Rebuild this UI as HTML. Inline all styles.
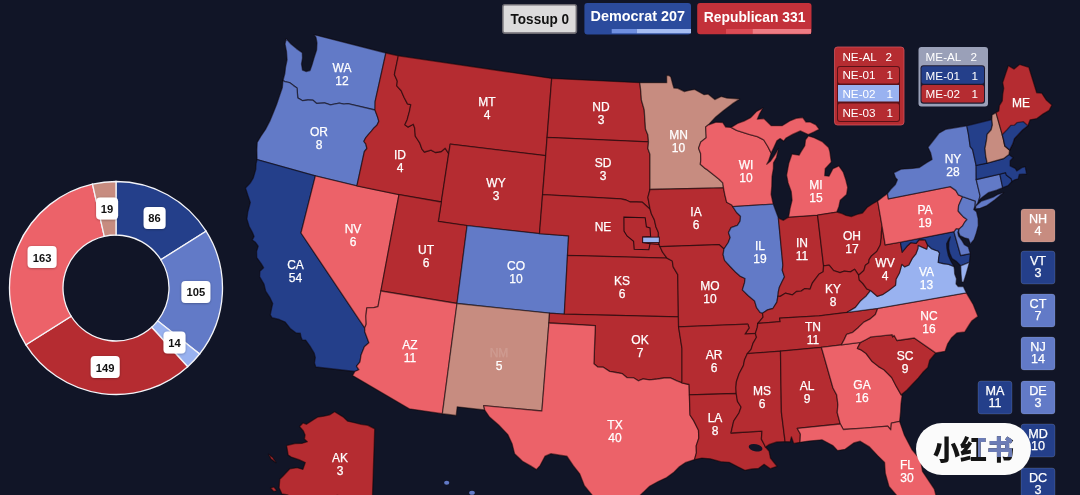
<!DOCTYPE html>
<html><head><meta charset="utf-8"><title>Electoral Map</title>
<style>
html,body{margin:0;padding:0;background:#111527;width:1080px;height:495px;overflow:hidden;}
svg{display:block;}
text{font-family:"Liberation Sans",Arial,sans-serif;}
.lbl text{fill:#fff;font-size:12px;text-anchor:middle;stroke:#fff;stroke-width:0.25px;}
.lbl text.bx{font-size:12.6px;}
.dl{fill:#111;font-size:11.2px;font-weight:bold;text-anchor:middle;}
.dt{fill:#fff;font-size:11.7px;}
.bt{font-size:14.2px;font-weight:bold;text-anchor:middle;}
.wm{font-family:"Noto Sans CJK SC","WenQuanYi Zen Hei",sans-serif;font-size:27px;font-weight:900;text-anchor:middle;fill:#141414;}
</style></head>
<body>
<svg width="1080" height="495" viewBox="0 0 1080 495">
<defs><filter id="sh" x="-30%" y="-30%" width="160%" height="160%"><feDropShadow dx="0" dy="0.5" stdDeviation="0.8" flood-color="#000" flood-opacity="0.35"/></filter></defs>
<g class="map" stroke="#0b0306" stroke-opacity="0.5" stroke-width="1.3" stroke-linejoin="round">
<path d="M283.0 80.5L284.9 73.3L285.5 67.4L287.1 59.8L286.5 51.6L285.0 44.0L286.2 38.8L291.0 44.1L296.5 48.6L302.3 52.7L302.5 58.0L301.5 63.9L302.5 70.1L306.0 71.5L310.0 70.6L312.0 64.9L314.0 58.1L316.6 50.0L317.0 42.9L316.0 37.4L314.2 34.7L385.9 53.0L375.1 101.7L375.0 110.0L347.8 103.6L343.9 104.1L339.3 103.1L330.4 104.8L324.6 102.9L316.7 103.4L313.0 100.2L307.8 100.0L302.6 100.7L297.8 97.9L297.4 93.2L297.0 88.0L293.5 85.6L289.5 82.6L284.8 81.6L283.0 80.5Z" fill="#627ac7"/>
<path d="M283.0 80.5L284.8 81.6L289.5 82.6L293.5 85.6L297.0 88.0L297.4 93.2L297.8 97.9L302.6 100.7L307.8 100.0L313.0 100.2L316.7 103.4L324.6 102.9L330.4 104.8L339.3 103.1L343.9 104.1L347.8 103.6L375.0 110.0L376.4 113.7L377.8 117.6L378.8 121.4L376.9 125.3L374.2 127.7L371.4 131.1L368.5 134.4L365.7 137.8L363.9 141.4L365.8 143.8L366.9 148.5L364.4 151.5L356.9 185.9L315.4 175.9L257.1 159.6L256.9 150.3L257.2 142.4L260.9 136.2L265.5 129.4L270.1 120.6L273.8 111.6L276.7 104.3L279.8 95.1L282.3 87.7L282.7 83.8L283.0 80.5Z" fill="#627ac7"/>
<path d="M257.1 159.6L315.4 175.9L301.0 233.0L364.7 327.9L364.9 331.9L368.9 342.7L364.4 346.8L361.1 355.1L360.0 361.9L356.5 366.2L358.9 369.7L354.9 371.5L315.8 367.0L314.5 362.9L315.3 357.4L314.2 353.2L310.0 346.2L305.6 340.1L302.3 340.0L301.0 337.0L300.3 333.2L295.8 332.8L290.2 328.4L285.2 322.1L279.3 319.5L272.0 317.7L270.3 314.8L271.6 308.4L272.7 303.6L270.1 297.9L265.7 291.2L264.0 284.1L259.6 276.7L259.9 271.3L263.6 267.7L261.2 263.7L256.8 257.6L256.6 251.4L258.2 246.2L255.5 242.3L252.3 240.0L254.1 236.4L252.7 232.9L249.1 226.3L246.9 218.9L247.8 212.0L250.3 202.5L248.0 195.7L245.5 188.0L250.2 183.1L253.3 177.9L255.8 169.4L256.1 163.4L257.1 159.6Z" fill="#243f8a"/>
<path d="M315.4 175.9L356.9 185.9L399.0 194.6L380.9 291.0L378.0 306.7L373.8 307.7L366.8 307.9L365.9 316.1L366.2 324.2L364.7 327.9L301.0 233.0L315.4 175.9Z" fill="#ec6269"/>
<path d="M385.9 53.0L375.1 101.7L375.0 110.0L376.4 113.7L377.8 117.6L378.8 121.4L376.9 125.3L374.2 127.7L371.4 131.1L368.5 134.4L365.7 137.8L363.9 141.4L365.8 143.8L366.9 148.5L364.4 151.5L356.9 185.9L399.0 194.6L441.3 202.0L448.7 153.7L445.1 148.2L441.3 151.5L435.5 152.5L431.0 150.2L424.4 152.0L422.0 149.2L419.7 142.8L417.5 139.5L415.3 136.1L414.7 128.0L413.3 124.2L407.9 127.1L404.9 124.8L407.2 119.7L409.5 111.2L410.8 104.6L407.5 103.9L404.0 97.3L401.2 90.8L396.8 85.9L397.3 81.1L394.4 74.6L398.3 55.8L385.9 53.0Z" fill="#b52c31"/>
<path d="M448.7 153.7L445.1 148.2L441.3 151.5L435.5 152.5L431.0 150.2L424.4 152.0L422.0 149.2L419.7 142.8L417.5 139.5L415.3 136.1L414.7 128.0L413.3 124.2L407.9 127.1L404.9 124.8L407.2 119.7L409.5 111.2L410.8 104.6L407.5 103.9L404.0 97.3L401.2 90.8L396.8 85.9L397.3 81.1L394.4 74.6L398.3 55.8L551.7 78.4L547.1 137.4L545.7 155.7L450.2 144.1L448.7 153.7Z" fill="#b52c31"/>
<path d="M448.7 153.7L450.2 144.1L545.7 155.7L542.6 194.6L539.5 233.7L467.1 225.6L438.3 221.4L441.3 202.0L448.7 153.7Z" fill="#b52c31"/>
<path d="M399.0 194.6L441.3 202.0L438.3 221.4L467.1 225.6L457.0 303.5L380.9 291.0L399.0 194.6Z" fill="#b52c31"/>
<path d="M467.1 225.6L539.5 233.7L568.6 235.8L567.5 255.4L564.3 314.2L549.5 313.2L457.0 303.5L467.1 225.6Z" fill="#627ac7"/>
<path d="M380.9 291.0L457.0 303.5L442.4 413.7L409.3 408.8L352.6 375.6L354.9 371.5L358.9 369.7L356.5 366.2L360.0 361.9L361.1 355.1L364.4 346.8L368.9 342.7L364.9 331.9L364.7 327.9L366.2 324.2L365.9 316.1L366.8 307.9L373.8 307.7L378.0 306.7L380.9 291.0Z" fill="#ec6269"/>
<path d="M457.0 303.5L549.5 313.2L548.9 323.0L541.9 411.0L483.7 405.6L484.7 410.0L457.2 406.8L456.2 415.5L442.4 413.7L457.0 303.5Z" fill="#c78c80"/>
<path d="M547.1 137.4L551.7 78.4L639.8 82.7L640.8 91.3L641.4 100.0L644.2 109.7L644.9 119.4L645.5 129.1L647.9 134.9L648.5 141.9L547.1 137.4Z" fill="#b52c31"/>
<path d="M547.1 137.4L648.5 141.9L647.9 148.5L650.0 154.4L650.0 189.5L647.9 197.3L650.1 209.3L646.5 206.1L642.3 202.2L636.6 201.9L630.2 202.0L626.0 200.0L621.0 198.9L542.6 194.6L545.7 155.7L547.1 137.4Z" fill="#b52c31"/>
<path d="M542.6 194.6L621.0 198.9L626.0 200.0L630.2 202.0L636.6 201.9L642.3 202.2L646.5 206.1L650.1 209.3L651.5 214.0L654.4 219.9L655.9 226.7L658.4 232.6L658.4 238.5L659.0 244.4L660.1 246.7L662.6 252.2L667.0 258.1L567.5 255.4L568.6 235.8L539.5 233.7L542.6 194.6Z" fill="#b52c31"/>
<path d="M567.5 255.4L667.0 258.1L672.3 261.0L673.2 266.9L677.8 274.7L678.4 316.9L564.3 314.2L567.5 255.4Z" fill="#b52c31"/>
<path d="M564.3 314.2L678.4 316.9L678.6 326.8L682.0 348.5L682.0 382.9L676.8 380.8L670.4 377.9L664.0 378.0L657.6 379.0L649.5 379.9L643.1 378.9L638.3 380.8L633.5 377.8L627.1 377.7L622.3 373.7L616.0 372.5L609.6 371.4L603.3 367.2L597.8 367.0L593.9 363.7L595.3 325.7L548.9 323.0L549.5 313.2L564.3 314.2Z" fill="#b52c31"/>
<path d="M548.9 323.0L595.3 325.7L593.9 363.7L597.8 367.0L603.3 367.2L609.6 371.4L616.0 372.5L622.3 373.7L627.1 377.7L633.5 377.8L638.3 380.8L643.1 378.9L649.5 379.9L657.6 379.0L664.0 378.0L670.4 377.9L676.8 380.8L682.0 382.9L689.1 384.5L689.4 394.9L690.0 415.0L693.7 420.6L698.5 430.3L698.8 438.1L696.2 445.9L696.4 452.8L694.5 459.6L685.2 462.7L679.3 466.7L673.5 472.6L666.7 477.6L658.2 481.5L649.6 486.3L643.6 492.1L638.4 496.9L634.9 504.6L634.3 514.3L636.5 524.0L638.2 532.7L632.0 533.5L624.1 530.5L616.2 527.4L605.8 523.3L600.8 513.5L597.6 501.7L592.6 495.7L584.4 485.7L579.7 473.8L573.3 465.7L566.9 456.2L560.2 455.2L551.0 453.7L545.0 456.2L540.1 465.6L536.4 469.6L530.7 465.9L522.5 461.3L514.6 453.8L512.1 443.8L507.8 434.6L498.7 424.9L489.5 417.0L484.7 410.0L483.7 405.6L541.9 411.0L548.9 323.0Z" fill="#ec6269"/>
<path d="M648.5 141.9L647.9 134.9L645.5 129.1L644.9 119.4L644.2 109.7L641.4 100.0L640.8 91.3L639.8 82.7L666.7 82.7L666.6 75.4L669.1 75.6L670.8 76.9L672.8 84.5L673.9 88.0L677.8 88.3L684.4 91.6L688.9 90.4L694.7 89.4L700.1 92.5L704.1 94.7L708.0 94.1L714.8 99.6L721.2 96.4L726.5 98.0L734.4 98.5L739.7 99.1L732.2 103.9L723.3 110.8L715.7 117.0L708.1 125.1L705.7 126.9L706.2 137.8L700.8 141.9L698.6 148.2L700.6 153.6L700.8 160.4L700.3 164.3L704.6 168.1L707.5 169.9L713.2 174.6L719.1 179.2L722.8 182.9L723.5 187.8L650.0 189.5L650.0 154.4L647.9 148.5L648.5 141.9Z" fill="#c78c80"/>
<path d="M650.0 189.5L723.5 187.8L724.8 194.6L726.7 202.3L731.8 205.0L732.8 206.7L736.6 212.5L740.5 216.2L740.1 221.2L737.4 225.3L731.1 227.6L728.5 232.6L730.2 237.5L728.3 242.5L724.0 249.0L719.2 244.7L660.1 246.7L659.0 244.4L658.4 238.5L658.4 232.6L655.9 226.7L654.4 219.9L651.5 214.0L650.1 209.3L647.9 197.3L650.0 189.5Z" fill="#b52c31"/>
<path d="M660.1 246.7L719.2 244.7L724.0 249.0L723.1 254.5L724.6 260.4L729.7 266.0L736.0 272.6L740.0 276.1L745.1 278.5L744.5 282.9L742.4 289.9L748.1 295.5L754.6 300.9L756.6 307.7L760.1 312.4L762.5 313.2L763.1 317.1L760.0 320.9L757.8 323.4L757.3 327.4L755.4 333.4L745.0 334.1L749.1 327.9L747.8 324.1L678.6 326.8L678.4 316.9L677.8 274.7L673.2 266.9L672.3 261.0L667.0 258.1L662.6 252.2L660.1 246.7Z" fill="#b52c31"/>
<path d="M678.6 326.8L747.8 324.1L749.1 327.9L745.0 334.1L755.4 333.4L756.5 337.3L753.0 343.4L751.1 349.4L747.4 353.6L744.6 359.7L743.4 365.6L739.1 373.7L736.4 381.7L735.9 387.7L736.2 393.5L689.4 394.9L689.1 384.5L682.0 382.9L682.0 348.5L678.6 326.8Z" fill="#b52c31"/>
<path d="M689.4 394.9L736.2 393.5L737.5 401.3L741.1 407.0L739.0 413.0L733.7 421.1L731.0 433.0L762.0 431.2L761.4 439.1L764.4 444.7L765.4 447.0L769.1 451.2L770.4 458.0L777.0 466.3L770.4 468.7L764.1 464.3L758.4 468.5L751.7 469.0L744.9 470.3L737.9 466.8L729.2 462.3L720.7 461.7L710.4 458.8L701.9 458.1L694.5 459.6L696.4 452.8L696.2 445.9L698.8 438.1L698.5 430.3L693.7 420.6L690.0 415.0L689.4 394.9Z" fill="#b52c31"/>
<path d="M708.1 125.1L716.0 122.2L722.7 122.5L725.7 127.1L731.1 127.4L736.6 130.4L749.1 134.4L757.4 136.7L763.8 140.0L767.8 146.5L771.2 153.1L768.5 161.2L766.7 164.3L770.6 161.0L774.2 155.8L778.4 148.9L776.5 157.5L773.5 162.7L773.4 168.6L772.0 176.5L771.8 186.4L771.1 194.3L773.2 204.1L732.8 206.7L731.8 205.0L726.7 202.3L724.8 194.6L723.5 187.8L722.8 182.9L719.1 179.2L713.2 174.6L707.5 169.9L704.6 168.1L700.3 164.3L700.8 160.4L700.6 153.6L698.6 148.2L700.8 141.9L706.2 137.8L705.7 126.9L708.1 125.1Z" fill="#ec6269"/>
<path d="M732.8 206.7L773.2 204.1L778.4 218.1L782.9 265.2L782.3 270.2L784.5 276.9L781.9 282.0L779.4 287.2L778.3 292.2L777.9 296.2L776.9 302.2L772.9 308.5L767.6 309.9L762.5 313.2L760.1 312.4L756.6 307.7L754.6 300.9L748.1 295.5L742.4 289.9L744.5 282.9L745.1 278.5L740.0 276.1L736.0 272.6L729.7 266.0L724.6 260.4L723.1 254.5L724.0 249.0L728.3 242.5L730.2 237.5L728.5 232.6L731.1 227.6L737.4 225.3L740.1 221.2L740.5 216.2L736.6 212.5L732.8 206.7Z" fill="#627ac7"/>
<path d="M778.4 218.1L783.4 220.3L788.6 217.1L817.6 215.1L823.6 265.8L823.2 271.8L818.9 274.3L815.7 278.6L812.4 283.0L810.0 289.2L804.6 288.7L801.1 291.1L796.5 291.5L792.3 294.9L785.3 293.2L780.2 296.4L777.9 296.2L778.3 292.2L779.4 287.2L781.9 282.0L784.5 276.9L782.3 270.2L782.9 265.2L778.4 218.1Z" fill="#b52c31"/>
<path d="M788.6 217.1L817.6 215.1L836.8 212.1L838.9 206.5L840.2 200.3L842.8 198.0L846.6 194.5L847.7 187.4L845.8 179.8L843.3 172.2L838.9 165.9L832.9 168.7L829.0 176.2L824.7 175.7L825.2 168.8L831.3 162.1L829.8 151.4L828.6 147.6L822.2 141.6L814.1 137.7L808.4 135.9L805.5 139.8L804.8 145.7L800.8 152.1L799.1 155.2L792.0 154.0L788.8 163.2L786.6 175.2L788.1 182.9L791.2 191.4L792.1 200.2L790.1 208.3L788.6 217.1Z" fill="#ec6269"/>
<path d="M731.1 127.4L736.6 130.4L749.1 134.4L757.4 136.7L763.8 140.0L767.8 146.5L771.2 153.1L774.1 147.0L776.9 140.8L780.1 138.6L783.7 141.1L786.1 138.0L792.5 134.4L800.3 130.9L808.3 134.5L814.1 131.9L819.2 129.2L815.9 124.8L810.1 122.0L806.0 122.1L802.8 117.6L796.1 118.3L789.7 121.0L782.1 125.7L771.3 125.7L763.9 118.6L757.3 119.2L759.5 114.1L762.9 108.0L756.6 111.4L750.5 117.7L744.0 121.1L737.5 123.5L731.1 127.4Z" fill="#ec6269"/>
<path d="M817.6 215.1L836.8 212.1L842.1 213.6L846.0 215.4L851.3 216.6L858.3 214.0L862.5 213.0L867.4 207.2L872.7 203.8L877.7 201.0L882.2 226.9L881.5 231.8L881.3 237.8L880.3 245.0L876.8 251.5L871.5 255.9L869.1 259.7L868.8 262.7L865.4 265.2L863.9 270.4L858.6 275.2L854.7 269.3L850.5 271.9L844.3 271.2L840.0 272.7L833.6 270.6L829.1 265.2L823.6 265.8L817.6 215.1Z" fill="#b52c31"/>
<path d="M823.6 265.8L829.1 265.2L833.6 270.6L840.0 272.7L844.3 271.2L850.5 271.9L854.7 269.3L858.6 275.2L859.3 280.0L862.9 283.5L866.8 288.9L870.6 290.5L866.3 295.9L860.8 300.7L855.5 307.4L847.2 312.4L819.3 315.8L779.6 318.2L780.2 321.7L757.8 323.4L760.0 320.9L763.1 317.1L762.5 313.2L767.6 309.9L772.9 308.5L776.9 302.2L777.9 296.2L780.2 296.4L785.3 293.2L792.3 294.9L796.5 291.5L801.1 291.1L804.6 288.7L810.0 289.2L812.4 283.0L815.7 278.6L818.9 274.3L823.2 271.8L823.6 265.8Z" fill="#b52c31"/>
<path d="M757.8 323.4L780.2 321.7L779.6 318.2L819.3 315.8L847.2 312.4L877.8 308.3L875.4 314.4L869.8 319.2L863.9 322.1L858.4 327.4L852.8 332.3L846.7 334.3L844.2 339.6L841.4 344.9L821.4 347.3L780.5 351.2L747.4 353.6L751.1 349.4L753.0 343.4L756.5 337.3L755.4 333.4L757.3 327.4L757.8 323.4Z" fill="#b52c31"/>
<path d="M747.4 353.6L780.5 351.2L781.4 412.1L785.1 441.6L776.8 441.9L769.4 444.4L765.4 447.0L764.4 444.7L761.4 439.1L762.0 431.2L731.0 433.0L733.7 421.1L739.0 413.0L741.1 407.0L737.5 401.3L736.2 393.5L735.9 387.7L736.4 381.7L739.1 373.7L743.4 365.6L744.6 359.7L747.4 353.6Z" fill="#b52c31"/>
<path d="M780.5 351.2L821.4 347.3L833.0 388.0L836.7 394.9L837.9 404.6L837.2 412.5L840.3 424.0L797.3 428.4L800.4 434.0L800.0 442.3L793.7 443.4L791.4 436.8L790.2 441.8L785.1 441.6L781.4 412.1L780.5 351.2Z" fill="#b52c31"/>
<path d="M821.4 347.3L841.4 344.9L860.5 342.4L857.4 348.4L861.6 350.2L866.1 353.5L872.2 361.6L878.6 366.6L884.0 369.7L891.7 377.5L896.5 386.7L901.2 394.8L902.1 395.7L901.0 403.8L900.6 411.8L899.6 421.4L891.4 423.1L890.8 429.9L887.7 426.2L864.3 428.1L843.3 429.5L840.3 424.0L837.2 412.5L837.9 404.6L836.7 394.9L833.0 388.0L821.4 347.3Z" fill="#ec6269"/>
<path d="M840.3 424.0L843.3 429.5L864.3 428.1L887.7 426.2L890.8 429.9L891.4 423.1L899.6 421.4L904.3 434.9L911.9 449.5L920.5 459.9L922.5 471.4L934.3 489.1L936.8 498.5L938.3 511.9L935.0 524.2L926.4 526.6L919.7 518.9L907.7 511.0L900.8 500.3L889.0 486.4L885.3 473.2L884.6 462.5L877.6 455.6L869.5 446.9L860.2 441.2L853.7 443.0L845.1 449.3L837.6 450.6L832.8 445.5L822.0 439.8L808.6 441.1L800.0 442.3L800.4 434.0L797.3 428.4L840.3 424.0Z" fill="#ec6269"/>
<path d="M860.5 342.4L865.7 339.7L870.9 336.9L878.7 336.2L892.2 334.7L892.6 336.8L894.1 335.4L897.0 340.5L914.3 338.0L935.7 352.9L929.7 360.2L927.8 367.5L922.9 372.3L918.2 378.1L912.6 384.0L907.0 389.9L901.2 394.8L896.5 386.7L891.7 377.5L884.0 369.7L878.6 366.6L872.2 361.6L866.1 353.5L861.6 350.2L857.4 348.4L860.5 342.4Z" fill="#b52c31"/>
<path d="M841.4 344.9L844.2 339.6L846.7 334.3L852.8 332.3L858.4 327.4L863.9 322.1L869.8 319.2L875.4 314.4L877.8 308.3L966.3 292.8L973.2 304.4L978.0 316.4L972.0 320.7L969.6 324.2L964.8 331.9L956.9 332.9L951.4 338.0L947.7 343.8L945.1 351.3L935.7 352.9L914.3 338.0L897.0 340.5L894.1 335.4L892.6 336.8L892.2 334.7L878.7 336.2L870.9 336.9L865.7 339.7L860.5 342.4L841.4 344.9Z" fill="#ec6269"/>
<path d="M877.8 308.3L966.3 292.8L963.3 286.4L958.2 286.5L956.0 283.9L956.5 278.8L954.7 274.1L954.4 269.2L953.8 266.3L948.7 264.3L943.1 263.5L938.3 262.4L938.8 257.3L939.6 253.1L937.9 250.9L935.8 250.3L931.6 248.7L927.6 245.1L926.7 249.1L918.1 245.3L917.9 248.4L915.9 253.8L912.2 258.4L908.8 265.0L904.6 266.8L901.8 264.3L899.5 272.7L896.0 279.3L895.5 285.3L888.7 290.5L883.1 294.3L877.2 296.3L870.6 290.5L866.3 295.9L860.8 300.7L855.5 307.4L847.2 312.4L877.8 308.3Z" fill="#99b2f0"/>
<path d="M882.2 226.9L881.5 231.8L881.3 237.8L880.3 245.0L876.8 251.5L871.5 255.9L869.1 259.7L868.8 262.7L865.4 265.2L863.9 270.4L858.6 275.2L859.3 280.0L862.9 283.5L866.8 288.9L870.6 290.5L877.2 296.3L883.1 294.3L888.7 290.5L895.5 285.3L896.0 279.3L899.5 272.7L901.8 264.3L904.6 266.8L908.8 265.0L912.2 258.4L915.9 253.8L917.9 248.4L918.1 245.3L926.7 249.1L927.6 245.1L925.3 239.9L919.2 239.5L916.1 243.3L910.7 242.7L907.5 245.7L902.2 252.2L900.4 242.2L885.2 244.8L882.2 226.9Z" fill="#b52c31"/>
<path d="M900.4 242.2L954.0 231.6L954.3 233.0L960.7 255.5L970.3 253.6L969.4 262.3L960.7 265.8L956.7 261.6L952.1 258.6L949.7 253.1L948.7 248.3L948.9 242.2L950.4 236.8L948.7 239.2L946.6 243.7L946.9 248.6L948.3 255.4L950.8 260.9L953.8 266.3L948.7 264.3L943.1 263.5L938.3 262.4L938.8 257.3L939.6 253.1L937.9 250.9L935.8 250.3L931.6 248.7L927.6 245.1L925.3 239.9L919.2 239.5L916.1 243.3L910.7 242.7L907.5 245.7L902.2 252.2L900.4 242.2Z" fill="#243f8a"/>
<path d="M954.0 231.6L954.3 233.0L960.7 255.5L970.3 253.6L968.3 247.0L964.5 244.8L961.9 240.4L958.6 236.0L957.8 232.2L959.2 228.9L956.2 228.7L954.0 231.6Z" fill="#627ac7"/>
<path d="M882.2 226.9L885.2 244.8L900.4 242.2L954.0 231.6L956.2 228.7L959.2 228.9L962.5 226.1L964.4 222.7L967.0 219.5L963.4 216.9L960.3 213.5L958.2 211.0L958.6 205.8L960.0 202.5L962.6 196.7L958.3 194.8L955.8 190.4L950.3 186.6L888.4 198.8L887.5 193.6L883.1 196.7L877.7 201.0L882.2 226.9Z" fill="#ec6269"/>
<path d="M959.2 228.9L962.5 226.1L964.4 222.7L967.0 219.5L963.4 216.9L960.3 213.5L958.2 211.0L958.6 205.8L960.0 202.5L962.6 196.7L975.4 201.1L975.1 206.1L973.7 209.4L976.5 211.8L978.1 218.5L978.3 225.5L976.3 233.1L974.0 239.6L970.4 243.9L968.5 238.9L964.4 237.8L960.1 235.7L958.5 232.0L959.2 228.9Z" fill="#627ac7"/>
<path d="M887.5 193.6L888.4 198.8L950.3 186.6L955.8 190.4L958.3 194.8L962.6 196.7L975.4 201.1L975.0 207.1L975.8 205.9L977.5 203.5L978.9 200.1L980.1 195.8L976.2 179.5L976.1 165.4L972.6 149.5L970.2 146.6L968.5 134.5L966.8 125.8L945.9 129.3L938.9 133.3L933.5 140.3L928.0 147.3L930.6 152.7L932.1 159.4L927.0 162.5L919.4 167.5L912.4 168.4L901.1 169.2L893.8 172.8L895.5 177.6L897.4 179.7L895.4 184.6L890.5 189.5L887.5 193.6Z" fill="#627ac7"/>
<path d="M978.9 200.1L980.1 195.8L976.2 179.5L999.8 174.2L1002.7 187.7L996.6 190.2L988.3 192.7L983.3 196.6L978.9 200.1Z" fill="#627ac7"/>
<path d="M1002.7 187.7L999.8 174.2L1005.6 172.6L1006.3 174.9L1011.2 178.7L1011.9 181.5L1008.1 185.6L1002.7 187.7Z" fill="#243f8a"/>
<path d="M976.2 179.5L999.8 174.2L1005.6 172.6L1006.3 174.9L1011.2 178.7L1011.9 181.5L1014.8 179.8L1018.2 178.8L1019.3 174.4L1026.6 174.0L1025.2 166.7L1021.8 167.6L1016.8 171.0L1015.3 168.4L1010.1 165.8L1010.2 160.7L1013.1 157.8L1008.9 154.5L1003.7 158.5L987.2 163.1L976.1 165.4L976.2 179.5Z" fill="#243f8a"/>
<path d="M976.1 165.4L987.2 163.1L985.7 156.0L985.0 148.3L986.4 140.8L987.2 134.3L991.2 129.7L992.4 125.0L991.9 119.6L966.8 125.8L968.5 134.5L970.2 146.6L972.6 149.5L976.1 165.4Z" fill="#243f8a"/>
<path d="M987.2 163.1L1003.7 158.5L1008.9 154.5L1009.6 150.1L1004.9 146.0L1003.2 138.1L996.0 112.6L992.1 114.9L991.9 119.6L992.4 125.0L991.2 129.7L987.2 134.3L986.4 140.8L985.0 148.3L985.7 156.0L987.2 163.1Z" fill="#c78c80"/>
<path d="M1009.6 150.1L1004.9 146.0L1003.2 138.1L996.0 112.6L998.8 110.9L999.4 105.6L1002.3 100.8L1002.7 94.6L1003.7 88.3L1002.7 82.5L1005.7 73.6L1008.4 65.8L1014.1 69.1L1019.6 64.5L1028.8 67.3L1036.7 92.8L1041.8 93.2L1046.2 100.0L1051.9 105.0L1049.1 110.4L1042.9 114.1L1036.9 118.6L1030.1 119.8L1027.9 125.8L1022.5 130.0L1017.9 134.9L1014.4 138.6L1012.7 143.9L1009.6 150.1Z" fill="#b52c31"/>
<path d="M969.4 262.3L960.7 265.8L961.1 274.8L961.8 281.7L963.5 282.3L966.3 273.6Z" fill="#99b2f0"/>
<path d="M975.5 209.0L980.2 208.3L987.0 205.6L994.6 199.9L1003.6 192.5L997.7 194.4L993.8 196.8L988.3 198.8L981.4 201.1L975.8 205.9Z" fill="#627ac7"/>
<path d="M374.7 428.8L367.9 425.3L361.0 424.3L354.3 422.7L347.7 421.2L343.1 416.9L334.6 411.7L329.9 414.8L323.9 416.2L317.9 417.0L314.2 419.2L306.5 424.3L303.0 423.0L299.6 426.5L303.4 431.0L305.1 435.0L304.4 439.1L307.4 441.7L301.8 443.4L294.9 443.5L286.6 445.6L288.2 455.1L291.3 457.1L299.0 459.7L305.3 462.5L302.9 469.4L297.2 467.7L289.9 468.8L283.1 476.0L279.8 479.2L279.1 487.7L282.0 494.0L287.9 495.0L286.2 505.7L287.9 507.0L294.3 507.1L299.5 508.4L302.9 514.3L300.9 519.7L296.0 522.8L287.7 527.4L277.4 530.5L269.2 533.0L262.1 535.0L276.0 534.3L288.6 531.9L301.6 526.6L312.1 520.4L318.3 512.4L328.4 504.0L331.9 496.2L337.9 495.3L340.6 502.9L345.2 498.4L350.9 499.6L360.1 506.4L372.2 503.9Z" fill="#b52c31"/><path d="M268.5 454.2L272.7 457.5L276.0 462.6L271.1 459.1Z" fill="#b52c31"/><path d="M273.9 487.1L276.7 490.4L273.7 491.5L270.5 488.0Z" fill="#b52c31"/><path d="M1002.2 134.8L1003.2 138.1L1004.9 146.0L1009.6 150.1L1012.7 143.9L1014.4 138.6L1017.9 134.9L1022.5 130.0L1027.9 125.8L1023.4 121.7L1017.2 122.6L1014.3 125.2L1010.8 125.3L1006.8 130.0Z" fill="#243f8a"/>
</g>
<ellipse cx="755.6" cy="447.8" rx="7" ry="3.6" transform="rotate(12 755.6 447.8)" fill="#111527"/>
<path d="M623.9 217.1L645.2 217.7L646.4 226.8L650.0 228.0L650.6 236.5L642.7 237.1L642.7 242.6L650.0 243.8L648.8 249.8L634.2 249.2L633.6 241.4L627.0 236.0L624.0 231.0Z" fill="none" stroke="#2a0a10" stroke-width="1.1"/>
<path d="M650 243.8L659.5 244.5" fill="none" stroke="#2a0a10" stroke-width="1.1"/>
<rect x="642.7" y="237.1" width="16.6" height="5.5" fill="#99b2f0" stroke="#2a0a10" stroke-width="0.9"/>
<ellipse cx="446.7" cy="482.8" rx="2.6" ry="2" fill="#627ac7"/><ellipse cx="472" cy="492.8" rx="2.8" ry="2" fill="#627ac7"/>
<g class="lbl">
<text x="342" y="71.6">WA</text><text x="342" y="85">12</text>
<text x="319" y="136">OR</text><text x="319" y="149.4">8</text>
<text x="295.5" y="268.5">CA</text><text x="295.5" y="281.9">54</text>
<text x="353" y="233">NV</text><text x="353" y="246.4">6</text>
<text x="400" y="159">ID</text><text x="400" y="172.4">4</text>
<text x="487" y="106">MT</text><text x="487" y="119.4">4</text>
<text x="496" y="187">WY</text><text x="496" y="200.4">3</text>
<text x="426" y="254">UT</text><text x="426" y="267.4">6</text>
<text x="516" y="270">CO</text><text x="516" y="283.4">10</text>
<text x="410" y="349">AZ</text><text x="410" y="362.4">11</text>
<text x="499" y="356.6" style="opacity:0.13">NM</text><text x="499" y="370">5</text>
<text x="601" y="111">ND</text><text x="601" y="124.4">3</text>
<text x="603" y="167">SD</text><text x="603" y="180.4">3</text>
<text x="603" y="231">NE</text>
<text x="622" y="285">KS</text><text x="622" y="298.4">6</text>
<text x="640" y="344">OK</text><text x="640" y="357.4">7</text>
<text x="615" y="429">TX</text><text x="615" y="442.4">40</text>
<text x="678.5" y="139">MN</text><text x="678.5" y="152.4">10</text>
<text x="696" y="216">IA</text><text x="696" y="229.4">6</text>
<text x="710" y="290">MO</text><text x="710" y="303.4">10</text>
<text x="714" y="359">AR</text><text x="714" y="372.4">6</text>
<text x="715" y="422">LA</text><text x="715" y="435.4">8</text>
<text x="746" y="169">WI</text><text x="746" y="182.4">10</text>
<text x="760" y="250">IL</text><text x="760" y="263.4">19</text>
<text x="816" y="189">MI</text><text x="816" y="202.4">15</text>
<text x="802" y="247">IN</text><text x="802" y="260.4">11</text>
<text x="852" y="240">OH</text><text x="852" y="253.4">17</text>
<text x="833" y="293">KY</text><text x="833" y="306.4">8</text>
<text x="813" y="331">TN</text><text x="813" y="344.4">11</text>
<text x="762" y="395">MS</text><text x="762" y="408.4">6</text>
<text x="807" y="390">AL</text><text x="807" y="403.4">9</text>
<text x="862" y="389">GA</text><text x="862" y="402.4">16</text>
<text x="907" y="469">FL</text><text x="907" y="482.4">30</text>
<text x="905" y="360">SC</text><text x="905" y="373.4">9</text>
<text x="929" y="320">NC</text><text x="929" y="333.4">16</text>
<text x="926.5" y="275.5">VA</text><text x="926.5" y="288.9">13</text>
<text x="885" y="267">WV</text><text x="885" y="280.4">4</text>
<text x="925" y="214">PA</text><text x="925" y="227.4">19</text>
<text x="953" y="163">NY</text><text x="953" y="176.4">28</text>
<text x="1021" y="107">ME</text>
<text x="340" y="462">AK</text><text x="340" y="475.4">3</text>
</g>
<g><path d="M116.00 181.50A106.5 106.5 0 0 1 206.08 231.19L160.83 259.73A53 53 0 0 0 116.00 235.00Z" fill="#243f8a" stroke="#f4f4f8" stroke-width="1.3"/>
<path d="M206.08 231.19A106.5 106.5 0 0 1 199.60 353.98L157.60 320.84A53 53 0 0 0 160.83 259.73Z" fill="#627ac7" stroke="#f4f4f8" stroke-width="1.3"/>
<path d="M199.60 353.98A106.5 106.5 0 0 1 187.69 366.75L151.68 327.19A53 53 0 0 0 157.60 320.84Z" fill="#99b2f0" stroke="#f4f4f8" stroke-width="1.3"/>
<path d="M187.69 366.75A106.5 106.5 0 0 1 25.92 344.81L71.17 316.27A53 53 0 0 0 151.68 327.19Z" fill="#b52c31" stroke="#f4f4f8" stroke-width="1.3"/>
<path d="M25.92 344.81A106.5 106.5 0 0 1 92.48 184.13L104.29 236.31A53 53 0 0 0 71.17 316.27Z" fill="#ec6269" stroke="#f4f4f8" stroke-width="1.3"/>
<path d="M92.48 184.13A106.5 106.5 0 0 1 116.00 181.50L116.00 235.00A53 53 0 0 0 104.29 236.31Z" fill="#c78c80" stroke="#f4f4f8" stroke-width="1.3"/>
<rect x="143.6" y="206.9" width="22" height="22" rx="4" fill="#fff" filter="url(#sh)"/>
<text x="154.6" y="222.1" class="dl">86</text>
<rect x="181.4" y="281.0" width="29" height="22" rx="4" fill="#fff" filter="url(#sh)"/>
<text x="195.9" y="296.4" class="dl">105</text>
<rect x="163.5" y="331.5" width="22" height="22" rx="4" fill="#fff" filter="url(#sh)"/>
<text x="174.5" y="346.7" class="dl">14</text>
<rect x="90.7" y="356.0" width="29" height="22" rx="4" fill="#fff" filter="url(#sh)"/>
<text x="105.2" y="371.5" class="dl">149</text>
<rect x="27.6" y="246.1" width="29" height="22" rx="4" fill="#fff" filter="url(#sh)"/>
<text x="42.1" y="261.6" class="dl">163</text>
<rect x="96.1" y="197.5" width="22" height="22" rx="4" fill="#fff" filter="url(#sh)"/>
<text x="107.1" y="212.7" class="dl">19</text></g>
<g class="lbl"><rect x="1021" y="209" width="34" height="33" rx="3" fill="#c78c80" stroke="#ffffff" stroke-opacity="0.13" stroke-width="1"/>
<text x="1038" y="222.8" class="bx">NH</text><text x="1038" y="235.2" class="bx">4</text>
<rect x="1021" y="251" width="34" height="33" rx="3" fill="#243f8a" stroke="#ffffff" stroke-opacity="0.13" stroke-width="1"/>
<text x="1038" y="264.8" class="bx">VT</text><text x="1038" y="277.2" class="bx">3</text>
<rect x="1021" y="294" width="34" height="33" rx="3" fill="#627ac7" stroke="#ffffff" stroke-opacity="0.13" stroke-width="1"/>
<text x="1038" y="307.8" class="bx">CT</text><text x="1038" y="320.2" class="bx">7</text>
<rect x="1021" y="337" width="34" height="33" rx="3" fill="#627ac7" stroke="#ffffff" stroke-opacity="0.13" stroke-width="1"/>
<text x="1038" y="350.8" class="bx">NJ</text><text x="1038" y="363.2" class="bx">14</text>
<rect x="1021" y="381" width="34" height="33" rx="3" fill="#627ac7" stroke="#ffffff" stroke-opacity="0.13" stroke-width="1"/>
<text x="1038" y="394.8" class="bx">DE</text><text x="1038" y="407.2" class="bx">3</text>
<rect x="1021" y="424" width="34" height="33" rx="3" fill="#243f8a" stroke="#ffffff" stroke-opacity="0.13" stroke-width="1"/>
<text x="1038" y="437.8" class="bx">MD</text><text x="1038" y="450.2" class="bx">10</text>
<rect x="1021" y="468" width="34" height="33" rx="3" fill="#243f8a" stroke="#ffffff" stroke-opacity="0.13" stroke-width="1"/>
<text x="1038" y="481.8" class="bx">DC</text><text x="1038" y="494.2" class="bx">3</text>
<rect x="978" y="381" width="34" height="33" rx="3" fill="#243f8a" stroke="#ffffff" stroke-opacity="0.13" stroke-width="1"/>
<text x="995" y="394.8" class="bx">MA</text><text x="995" y="407.2" class="bx">11</text>
<rect x="978" y="424" width="34" height="33" rx="3" fill="#243f8a" stroke="#ffffff" stroke-opacity="0.13" stroke-width="1"/>
<text x="995" y="437.8" class="bx">RI</text><text x="995" y="450.2" class="bx">4</text></g>
<rect x="834.5" y="47" width="69.5" height="78" rx="3" fill="#b52c31" stroke="#d0525a" stroke-width="0.8"/>
<text x="842.4" y="61.2" class="dt">NE-AL</text><text x="885.5" y="61.2" class="dt">2</text>
<rect x="837" y="66" width="63" height="56" rx="3" fill="#5a1218"/>
<rect x="838" y="67" width="61" height="16.5" rx="2" fill="#b52c31"/>
<rect x="838" y="85" width="61" height="16.5" fill="#99b2f0"/>
<rect x="838" y="103.5" width="61" height="17.5" rx="2" fill="#b52c31"/>
<text x="842.4" y="79.3" class="dt">NE-01</text><text x="886.5" y="79.3" class="dt">1</text>
<text x="842.4" y="97.5" class="dt">NE-02</text><text x="886.5" y="97.5" class="dt">1</text>
<text x="842.4" y="116.5" class="dt">NE-03</text><text x="886.5" y="116.5" class="dt">1</text>
<rect x="918.5" y="47" width="69.5" height="59.5" rx="3" fill="#9aa0b8"/>
<text x="925.6" y="61.1" class="dt">ME-AL</text><text x="970.5" y="61.1" class="dt">2</text>
<rect x="920.5" y="65.3" width="64.5" height="38.5" rx="3" fill="#1d1a30"/>
<rect x="921.5" y="66.3" width="62.5" height="17.5" rx="2" fill="#243f8a"/>
<rect x="921.5" y="85" width="62.5" height="17.5" rx="2" fill="#b52c31"/>
<text x="925.6" y="79.5" class="dt">ME-01</text><text x="971.5" y="79.5" class="dt">1</text>
<text x="925.6" y="97.5" class="dt">ME-02</text><text x="971.5" y="97.5" class="dt">1</text>
<rect x="502.8" y="4.8" width="73.6" height="28.3" rx="2" fill="#dcdbdc" stroke="#6d6b72" stroke-width="1.6"/>
<text x="539.8" y="23.6" class="bt" fill="#111" textLength="58.4" lengthAdjust="spacingAndGlyphs">Tossup 0</text>
<rect x="584.4" y="3" width="106.6" height="31.4" rx="3" fill="#2b4b9d"/>
<rect x="611.7" y="29" width="25" height="4.3" fill="#6f8fe0"/>
<rect x="636.7" y="29" width="54.3" height="4.3" fill="#a6bdf2"/>
<text x="637.8" y="21" class="bt" fill="#fff" textLength="94.4" lengthAdjust="spacingAndGlyphs">Democrat 207</text>
<rect x="697.2" y="3" width="114.3" height="31.3" rx="3" fill="#c3313a"/>
<rect x="726" y="29" width="26.6" height="4.8" fill="#dc4b55"/>
<rect x="752.6" y="29" width="58.4" height="4.8" fill="#ee7c84"/>
<text x="754.6" y="21.6" class="bt" fill="#fff" textLength="101.7" lengthAdjust="spacingAndGlyphs">Republican 331</text>
<rect x="916" y="423" width="115" height="52" rx="26" fill="#fbfbfb"/>
<text x="973.5" y="459.5" class="wm">小红书</text>
<clipPath id="riclip"><rect x="978" y="424" width="34" height="33"/></clipPath>
<text x="973.5" y="459.5" class="wm" style="fill:#6c7cb6" clip-path="url(#riclip)" aria-hidden="true">小红书</text>
</svg>
</body></html>
